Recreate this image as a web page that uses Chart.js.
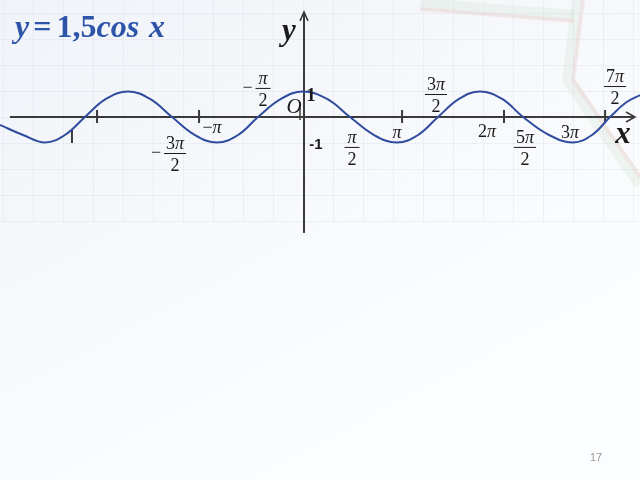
<!DOCTYPE html>
<html>
<head>
<meta charset="utf-8">
<script src="https://cdn.jsdelivr.net/npm/chart.js@4/dist/chart.umd.min.js"></script>
<style>
  html, body { margin: 0; padding: 0; background: #ffffff; }
  #mycanvas { display: block; }
</style>
</head>
<body>
<canvas id="mycanvas" width="640" height="480"></canvas>
<script>
// curve y = 1,5cos x (x in units of pi-ticks, y in curve units)
var curveX = [-2.995, -2.768, -2.552, -2.355, -2.158, -1.951, -1.734, -1.517, -1.300, -1.074,
              -0.857, -0.650, -0.453, -0.227, -0.010, 0.227, 0.453, 0.690, 0.916, 1.123,
              1.320, 1.527, 1.734, 1.951, 2.158, 2.414, 2.650, 2.837, 3.015, 3.172, 3.310];
var curveY = [-0.47, -1.06, -1.5, -1.06, 0, 1.06, 1.5, 1.06, 0, -1.06,
              -1.5, -1.06, 0, 1.06, 1.5, 1.06, 0, -1.06, -1.5, -1.06,
              0, 1.06, 1.5, 1.06, 0, -1.06, -1.5, -1.06, 0, 0.85, 1.29];

// tick marks on the x axis
var tickX = [-2.039, -1.034, 0.966, 1.970, 2.966];
var strayTickX = [-2.286];

// tick labels
var fracLabels = ["−π/2", "−3π/2", "π/2", "3π/2", "5π/2", "7π/2"];
var fracX = [-0.404, -1.271, 0.473, 1.300, 2.177, 3.064];
var fracY = [1.71, -2.12, -1.76, 1.35, -1.76, 1.82];
var plainLabels = ["−π", "π", "2π", "3π"];
var plainX = [-0.906, 0.916, 1.803, 2.621];
var plainY = [-0.65, -0.94, -0.88, -0.94];

var titleText = "y = 1,5cos x";
var pageNo = "17";

var points = [];
for (var i = 0; i < curveX.length; i++) {
    points.push({x: curveX[i], y: curveY[i]});
}

var serif = '"Liberation Serif", "Times New Roman", serif';

var slidePlugin = {
    id: 'slide',
    beforeDraw: function(chart) {
        var c = chart.ctx;
        var w = chart.width, h = chart.height;
        c.save();
        var g = c.createLinearGradient(0, 0, w * 0.4, h);
        g.addColorStop(0, '#f0f3f8');
        g.addColorStop(0.5, '#f6f8fb');
        g.addColorStop(1, '#fcfdfe');
        c.fillStyle = g;
        c.fillRect(0, 0, w, h);
        // faint grid in the upper part
        c.strokeStyle = 'rgba(210,216,226,0.3)';
        c.lineWidth = 1;
        for (var gx = 3; gx < w; gx += 30) {
            c.beginPath(); c.moveTo(gx + 0.5, 0); c.lineTo(gx + 0.5, 222); c.stroke();
        }
        for (var gy = 13; gy < 222; gy += 26) {
            c.beginPath(); c.moveTo(0, gy + 0.5); c.lineTo(w, gy + 0.5); c.stroke();
        }
        // pale decorative stripes at the top right
        c.lineCap = 'butt';
        c.lineJoin = 'round';
        c.lineWidth = 12;
        c.strokeStyle = 'rgba(205,225,205,0.25)';
        c.beginPath(); c.moveTo(420, 4); c.lineTo(574, 16); c.stroke();
        c.beginPath(); c.moveTo(578, 0); c.lineTo(568, 80); c.lineTo(640, 184); c.stroke();
        c.lineWidth = 4;
        c.strokeStyle = 'rgba(238,200,200,0.3)';
        c.beginPath(); c.moveTo(420, 9); c.lineTo(574, 21); c.stroke();
        c.beginPath(); c.moveTo(583, 0); c.lineTo(573, 80); c.lineTo(640, 177); c.stroke();
        c.restore();
    },
    beforeDatasetsDraw: function(chart) {
        var c = chart.ctx;
        var sx = chart.scales.x, sy = chart.scales.y;
        var x0 = sx.getPixelForValue(0), y0 = sy.getPixelForValue(0);
        c.save();
        c.strokeStyle = '#3a3a3a';
        c.lineWidth = 2;
        // x axis with arrow
        var xEnd = sx.getPixelForValue(3.251);
        c.beginPath();
        c.moveTo(sx.getPixelForValue(-2.897), y0);
        c.lineTo(xEnd, y0);
        c.stroke();
        c.lineWidth = 1.5;
        c.beginPath();
        c.moveTo(xEnd - 8, y0 - 5); c.lineTo(xEnd + 1, y0); c.lineTo(xEnd - 8, y0 + 5);
        c.stroke();
        // y axis with arrow
        var yTop = sy.getPixelForValue(6.12);
        c.lineWidth = 2;
        c.beginPath();
        c.moveTo(x0, sy.getPixelForValue(-6.82));
        c.lineTo(x0, yTop);
        c.stroke();
        c.lineWidth = 1.5;
        c.beginPath();
        c.moveTo(x0 - 4, yTop + 8); c.lineTo(x0, yTop - 1); c.lineTo(x0 + 4, yTop + 8);
        c.stroke();
        // ticks
        c.lineWidth = 2;
        tickX.forEach(function(t) {
            var px = sx.getPixelForValue(t);
            c.beginPath(); c.moveTo(px, y0 - 7); c.lineTo(px, y0 + 6); c.stroke();
        });
        strayTickX.forEach(function(t) {
            var px = sx.getPixelForValue(t);
            c.beginPath(); c.moveTo(px, sy.getPixelForValue(-0.76)); c.lineTo(px, sy.getPixelForValue(-1.53)); c.stroke();
        });
        // little stroke next to O
        c.lineWidth = 1.5;
        c.beginPath(); c.moveTo(x0 - 4, y0 - 9); c.lineTo(x0 - 4, y0 + 3); c.stroke();
        c.restore();
    },
    afterDraw: function(chart) {
        var c = chart.ctx;
        var sx = chart.scales.x, sy = chart.scales.y;
        c.save();
        c.fillStyle = '#1a1a1a';
        c.textAlign = 'center';
        c.textBaseline = 'alphabetic';

        // fraction labels
        fracLabels.forEach(function(lab, k) {
            var neg = lab.charAt(0) === '−';
            var body = neg ? lab.slice(1) : lab;
            var parts = body.split('/');
            var cx = sx.getPixelForValue(fracX[k]);
            var by = sy.getPixelForValue(fracY[k]);
            c.font = '18px ' + serif;
            var numW = c.measureText(parts[0]).width;
            var barW = Math.max(numW + 4, 15);
            drawPi(c, parts[0], cx, by - 4);
            c.fillText(parts[1], cx, by + 18);
            c.strokeStyle = '#1a1a1a';
            c.lineWidth = 1;
            c.beginPath();
            c.moveTo(cx - barW / 2, by + 0.5);
            c.lineTo(cx + barW / 2, by + 0.5);
            c.stroke();
            if (neg) {
                c.fillText('−', cx - barW / 2 - 8, by + 5);
            }
        });

        // simple labels
        c.textBaseline = 'middle';
        plainLabels.forEach(function(lab, k) {
            c.font = '18px ' + serif;
            drawPi(c, lab, sx.getPixelForValue(plainX[k]), sy.getPixelForValue(plainY[k]));
        });

        // O, 1, -1
        c.font = 'italic 21px ' + serif;
        c.fillText('O', sx.getPixelForValue(-0.099), sy.getPixelForValue(0.53));
        c.font = 'bold 19px ' + serif;
        c.fillText('1', sx.getPixelForValue(0.069), sy.getPixelForValue(1.24));
        c.font = 'bold 15px "Liberation Sans", Arial, sans-serif';
        c.fillText('-1', sx.getPixelForValue(0.118), sy.getPixelForValue(-1.65));

        // axis names
        c.font = 'bold italic 31px ' + serif;
        c.fillText('y', sx.getPixelForValue(-0.148), sy.getPixelForValue(5.02));
        c.fillText('x', sx.getPixelForValue(3.143), sy.getPixelForValue(-1.06));

        // title
        c.textAlign = 'left';
        c.textBaseline = 'alphabetic';
        c.fillStyle = '#2c54a8';
        var bits = [
            ['bold italic 32px ' + serif, 'y', 4],
            ['bold 32px ' + serif, '=', 5],
            ['bold 32px ' + serif, '1,5', 0],
            ['bold italic 32px ' + serif, 'cos', 10],
            ['bold italic 32px ' + serif, 'x', 0]
        ];
        var tx = 15;
        bits.forEach(function(b) {
            c.font = b[0];
            c.fillText(b[1], tx, 37);
            tx += c.measureText(b[1]).width + b[2];
        });

        // page number
        c.fillStyle = '#9a9a9a';
        c.font = '11px "Liberation Sans", Arial, sans-serif';
        c.textAlign = 'center';
        c.textBaseline = 'middle';
        c.fillText(pageNo, 596, 458);
        c.restore();
    }
};

// draws text with the pi letter in italic
function drawPi(c, s, cx, y) {
    var base = c.font.replace(/^italic /, '');
    var segs = [];
    var total = 0;
    for (var i = 0; i < s.length; i++) {
        var ch = s.charAt(i);
        var f = ch === 'π' ? 'italic ' + base : base;
        c.font = f;
        var w = c.measureText(ch).width;
        segs.push([ch, f, w]);
        total += w;
    }
    var align = c.textAlign;
    c.textAlign = 'left';
    var x = cx - total / 2;
    segs.forEach(function(sg) {
        c.font = sg[1];
        c.fillText(sg[0], x, y);
        x += sg[2];
    });
    c.textAlign = align;
    c.font = base;
}

var ctx = document.getElementById('mycanvas');
var LineGraph = new Chart(ctx, {
    type: 'line',
    data: {
        datasets: [{
            label: titleText,
            data: points,
            borderColor: '#2f4c9e',
            borderWidth: 2,
            pointRadius: 0,
            fill: false,
            tension: 0.4
        }]
    },
    options: {
        responsive: false,
        animation: false,
        layout: { padding: 0 },
        plugins: { legend: { display: false }, tooltip: { enabled: false } },
        scales: {
            x: { type: 'linear', display: false, min: -2.995, max: 3.310 },
            y: { type: 'linear', display: false, min: -21.35, max: 6.88 }
        }
    },
    plugins: [slidePlugin]
});
</script>
</body>
</html>
